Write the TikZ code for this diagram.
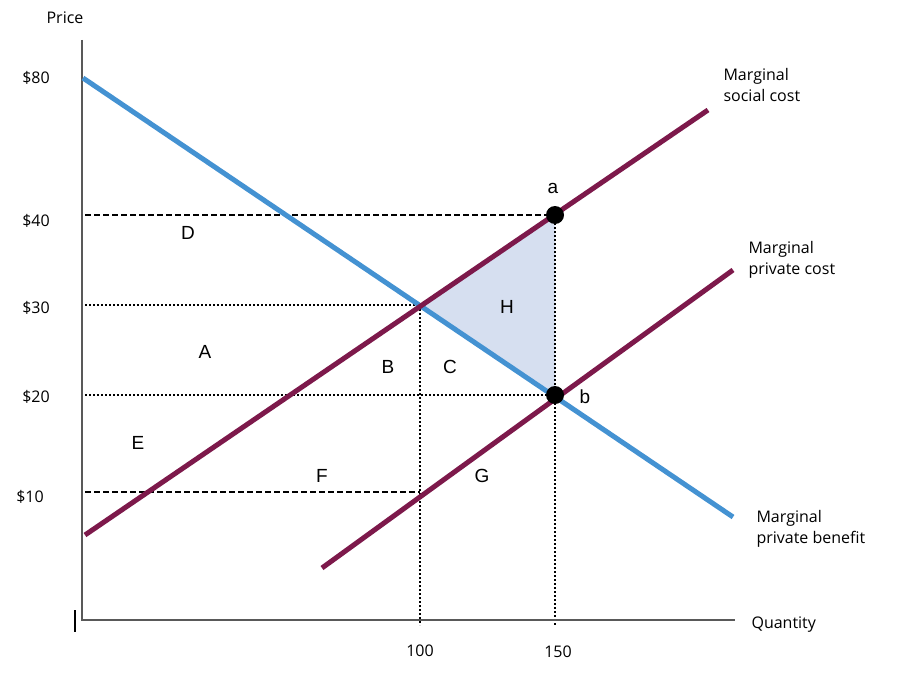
\documentclass[tikz,border=0pt]{standalone}
\usepackage{fontspec}
\setmainfont{Open Sans}
\newfontfamily\arialf{Liberation Sans}
\definecolor{bl}{RGB}{68,146,210}
\definecolor{mar}{RGB}{125,25,75}
\definecolor{shd}{RGB}{214,223,240}
\begin{document}
\begin{tikzpicture}[x=1pt,y=-1pt,
  lbl/.style={font=\fontsize{16}{21}\selectfont},
  let/.style={font=\arialf\fontsize{19}{21}\selectfont},
  curve/.style={line width=5pt},
  dsh/.style={line width=2pt,dash pattern=on 6pt off 3pt},
  dts/.style={line width=2pt,dash pattern=on 2pt off 2pt}]
\useasboundingbox[fill=white] (0,0) rectangle (912,690);
\coordinate (e) at (420,305); \coordinate (a) at (555,215); \coordinate (b) at (555,395);
\coordinate (f) at (420,492);
\fill[shd] (e) -- (a) -- (b) -- cycle;
\draw[dsh] (85,215) -- (a);
\draw[dsh] (85,492) -- (f);
\draw[dts] (85,305) -- (e);
\draw[dts] (85,395) -- (b);
\draw[dts] (e) -- (420,625);
\draw[dts] (a) -- (555,625);
\draw[line width=2pt,gray!70!black] (82,40) -- (82,620) -- (735,620);
\draw[line width=1.5pt] (75,610) -- (75,632);
\draw[curve,bl] (83,78) -- (733,517);
\draw[curve,mar] (85,535) -- (708,110);
\draw[curve,mar] (322,568) -- (733,270);
\fill (a) circle (9); \fill (b) circle (9);
\node[lbl] (p) at (65,18) {Price};
\node[lbl] (p80) at (36,78) {\$80};
\node[lbl] (p40) at (36,221) {\$40};
\node[lbl] (p30) at (36,308) {\$30};
\node[lbl] (p20) at (36,397) {\$20};
\node[lbl] (p10) at (30,497) {\$10};
\node[lbl] (q100) at (420,651) {100};
\node[lbl] (q150) at (558,652) {150};
\node[lbl,anchor=west] (qt) at (748,625) {Quantity};
\node[lbl,anchor=west,align=left] (msc) at (720,85) {Marginal\\social cost};
\node[lbl,anchor=west,align=left] (mpc) at (745,260) {Marginal\\private cost};
\node[lbl,anchor=west,align=left] (mpb) at (753,529) {Marginal\\private benefit};
\node[let] (D) at (188,233) {D};
\node[let] (A) at (205,352) {A};
\node[let] (E) at (138,443) {E};
\node[let] (B) at (388,367) {B};
\node[let] (C) at (450,367) {C};
\node[let] (F) at (322,476) {F};
\node[let] (G) at (482,476) {G};
\node[let] (H) at (507,307) {H};
\node[let] (la) at (553,188) {a};
\node[let] (lb) at (585,397) {b};
\end{tikzpicture}
\end{document}
